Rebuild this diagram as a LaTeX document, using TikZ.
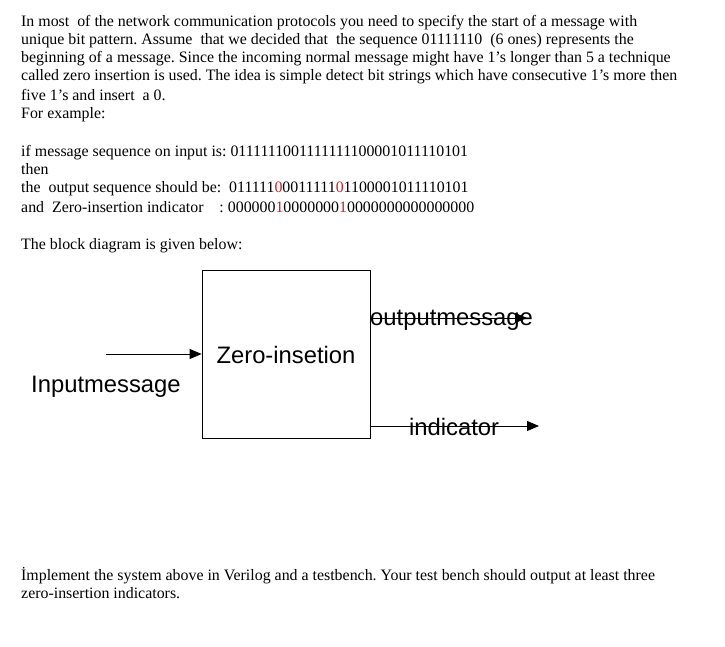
\documentclass[tikz,border=0pt]{standalone}
\usepackage{fontspec}
\setmainfont{Liberation Serif}
\setsansfont{Liberation Sans}
\usetikzlibrary{arrows.meta}
\definecolor{redd}{RGB}{200,30,40}
\frenchspacing
\begin{document}
\begin{tikzpicture}[x=1pt,y=-1pt,
  txt/.style={anchor=base west,inner sep=0pt,font=\frenchspacing\fontsize{15.9}{18}\selectfont},
  lbl/.style={inner sep=0pt,font=\sffamily\fontsize{23.8}{26}\selectfont},
  arr/.style={-{Triangle[length=12pt,width=10pt]},line width=0.8pt}]
\useasboundingbox (0,0) rectangle (725,647);
\node[txt] (l1) at (21,27) {In most \ of the network communication protocols you need to specify the start of a message with};
\node[txt] (l2) at (21,45) {unique bit pattern. Assume \ that we decided that \ the sequence 01111110 \ (6 ones) represents the};
\node[txt] (l3) at (21,63) {beginning of a message. Since the incoming normal message might have 1's longer than 5 a technique};
\node[txt] (l4) at (21,81) {called zero insertion is used. The idea is simple detect bit strings which have consecutive 1’s more then};
\node[txt] (l5) at (21,101) {five 1’s and insert \ a 0.};
\node[txt] (l6) at (21,119) {For example:};
\node[txt] (l7) at (21,157) {if message sequence on input is: 0111111001111111100001011110101};
\node[txt] (l8) at (21,175) {then};
\node[txt] (l9) at (21,193) {the \ output sequence should be: \ 011111\textcolor{redd}{0}0011111\textcolor{redd}{0}1100001011110101};
\node[txt] (l10) at (21,212) {and \ Zero-insertion indicator \ \ \ : 000000\textcolor{redd}{1}0000000\textcolor{redd}{1}0000000000000000};
\node[txt] (l11) at (21,249) {The block diagram is given below:};
\node[txt] (l12) at (21,580) {İmplement the system above in Verilog and a testbench. Your test bench should output at least three};
\node[txt] (l13) at (21,598) {zero-insertion indicators.};
\node[draw,line width=0.8pt,minimum width=168pt,minimum height=168pt,inner sep=0pt] (box) at (286,354) {};
\node[lbl] (zi) at (286,355) {Zero-insetion};
\coordinate (in) at (106,354);
\draw[arr] (in) -- (box.west);
\node[lbl,anchor=west] (im) at (31,387) {Inputmessage};
\coordinate (o1) at (box.east |- 0,318);
\coordinate (o2) at (527,318);
\draw[arr] (o1) -- (o2);
\node[lbl,anchor=west] (om) at (370,320) {outputmessage};
\coordinate (i1) at (box.east |- 0,426);
\coordinate (i2) at (539,426);
\draw[arr] (i1) -- (i2);
\node[lbl,anchor=west] (ind) at (409,427) {indicator};
\end{tikzpicture}
\end{document}
